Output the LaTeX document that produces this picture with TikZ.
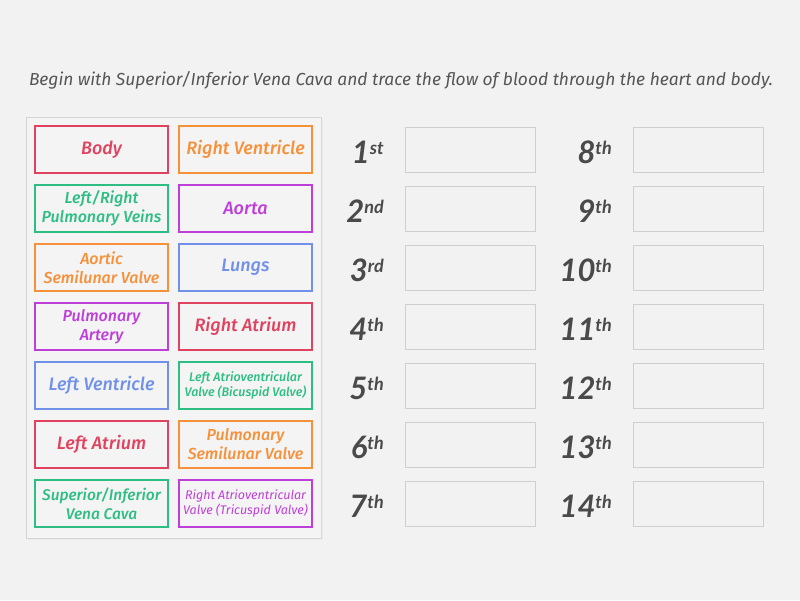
\documentclass[tikz,border=0pt]{standalone}
\usepackage{fontspec}
\setmainfont{Fira Sans}
\newfontfamily\cardfont{Fira Sans}[BoldFont={Fira Sans Medium},BoldItalicFont={Fira Sans Medium Italic}]
\newfontfamily\numfont{Lato}
\usetikzlibrary{positioning}
\definecolor{pagebg}{HTML}{F3F2F3}
\definecolor{panelbg}{HTML}{F5F4F5}
\definecolor{panelln}{HTML}{D6D6D6}
\definecolor{boxln}{HTML}{CFCFCF}
\definecolor{titlec}{HTML}{555555}
\definecolor{numc}{HTML}{4A4A4A}
\definecolor{cred}{HTML}{E0435F}
\definecolor{corange}{HTML}{F5913A}
\definecolor{cgreen}{HTML}{2EBE84}
\definecolor{cpurple}{HTML}{BE3FD8}
\definecolor{cblue}{HTML}{7090EA}
\tikzset{
  card/.style={draw=#1, line width=2.4pt, fill=panelbg, minimum width=133pt, minimum height=47pt,
    inner sep=1pt, align=center, text=#1, font=\cardfont\bfseries\itshape\fontsize{18}{19}\selectfont},
  twocard/.style={card=#1, font=\cardfont\bfseries\itshape\fontsize{16}{19}\selectfont},
  smallcard/.style={card=#1, font=\cardfont\itshape\fontsize{13}{15}\selectfont},
  ansbox/.style={draw=boxln, line width=0.8pt, fill=pagebg, minimum width=130pt, minimum height=45pt, inner sep=0pt},
  numlbl/.style={anchor=east, text=numc, inner sep=0pt, font=\numfont\bfseries\itshape\fontsize{31}{32}\selectfont},
}
\newcommand{\ord}[2]{#1\raisebox{8.5pt}{\fontsize{18}{18}\selectfont #2}}
\begin{document}
\begin{tikzpicture}[x=1pt,y=-1pt]
\fill[pagebg] (0,0) rectangle (800,600);
\useasboundingbox (0,0) rectangle (800,600);
% title
\node[text=titlec, font=\itshape\fontsize{17.4}{19}\selectfont] (title) at (401,80)
  {Begin with Superior/Inferior Vena Cava and trace the flow of blood through the heart and body.};
% panel
\fill[black!8] (27.5,119) rectangle (322.5,539.5);
\node[draw=panelln, line width=0.8pt, fill=panelbg, minimum width=295pt, minimum height=421pt, inner sep=0pt] (panel) at (173.5,327.5) {};
% cards
\node[card=cred] (c1) at (101.5,149.5) {Body};
\node[card=corange] (c2) at (245.5,149.5) {Right Ventricle};
\node[twocard=cgreen] (c3) at (101.5,208.5) {Left/Right\\Pulmonary Veins};
\node[card=cpurple] (c4) at (245.5,208.5) {Aorta};
\node[twocard=corange] (c5) at (101.5,267.5) {Aortic\\Semilunar Valve};
\node[card=cblue] (c6) at (245.5,267.5) {Lungs};
\node[twocard=cpurple] (c7) at (101.5,326.5) {Pulmonary\\Artery};
\node[card=cred] (c8) at (245.5,326.5) {Right Atrium};
\node[card=cblue] (c9) at (101.5,385.5) {Left Ventricle};
\node[smallcard=cgreen, font=\cardfont\bfseries\itshape\fontsize{12.5}{15}\selectfont] (c10) at (245.5,385.5) {Left Atrioventricular\\Valve (Bicuspid Valve)};
\node[card=cred] (c11) at (101.5,444.5) {Left Atrium};
\node[twocard=corange] (c12) at (245.5,444.5) {Pulmonary\\Semilunar Valve};
\node[twocard=cgreen, font=\cardfont\bfseries\itshape\fontsize{15.5}{19}\selectfont] (c13) at (101.5,503.5) {Superior/Inferior\\Vena Cava};
\node[smallcard=cpurple, font=\cardfont\itshape\fontsize{12.5}{15}\selectfont] (c14) at (245.5,503.5) {Right Atrioventricular\\Valve (Tricuspid Valve)};
% answer boxes
\foreach \i/\t/\s in {1/1/st,2/2/nd,3/3/rd,4/4/th,5/5/th,6/6/th,7/7/th}{
  \node[ansbox] (a\i) at (470.5,{149.5+59*(\i-1)}) {};
  \node[numlbl] (n\i) at (384,{152+59*(\i-1)}) {\ord{\t}{\s}};
}
\foreach \i/\t in {8/8,9/9,10/10,11/11,12/12,13/13,14/14}{
  \node[ansbox] (a\i) at (698.5,{149.5+59*(\i-8)}) {};
  \node[numlbl] (n\i) at (612,{152+59*(\i-8)}) {\ord{\t}{th}};
}
\end{tikzpicture}
\end{document}
